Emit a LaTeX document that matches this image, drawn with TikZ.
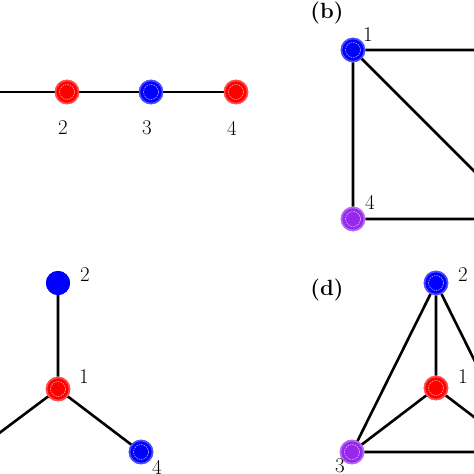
\documentclass[tikz,border=0pt]{standalone}
\definecolor{nred}{rgb}{1,0,0}
\definecolor{nblue}{rgb}{0,0,1}
\definecolor{npurple}{RGB}{150,40,235}
\tikzset{
  vtx/.style={circle,minimum size=23pt,inner sep=0pt,fill=#1,draw=#1!70!white,line width=1.6pt,
    path picture={\draw[white!70!#1,dashed,dash pattern=on 1.5pt off 1pt,line width=0.6pt] (path picture bounding box.center) circle (7.5pt);}},
  vplain/.style={circle,minimum size=23pt,inner sep=0pt,fill=#1,draw=#1,line width=1pt},
  edge/.style={line width=2.6pt,black},
  lab/.style={font=\fontsize{21}{24}\selectfont,inner sep=0pt},
  plab/.style={font=\fontsize{22}{26}\selectfont\bfseries,inner sep=0pt}
}
\begin{document}
\begin{tikzpicture}[x=1pt,y=-1pt]
\useasboundingbox (0,0) rectangle (474,474);
\clip (0,0) rectangle (474,474);
% panel (a)
\node[vtx=nred] (a1) at (-17,92) {};
\node[vtx=nred] (a2) at (67,92) {};
\node[vtx=nblue] (a3) at (151,92) {};
\node[vtx=nred] (a4) at (236,92) {};
\begin{scope}[on background layer/.try]
\end{scope}
\draw[edge] (a1) -- (a2) (a2) -- (a3) (a3) -- (a4);
\node[lab] (la2) at (63,128) {2};
\node[lab] (la3) at (147,128) {3};
\node[lab] (la4) at (232,128) {4};
% panel (b)
\node[plab] (pb) at (327,13) {(b)};
\node[vtx=nblue] (b1) at (353,50) {};
\node[vtx=nblue] (b2) at (522,50) {};
\node[vtx=nred] (b3) at (522,219) {};
\node[vtx=npurple] (b4) at (353,219) {};
\draw[edge] (b1) -- (b2) (b1) -- (b3) (b1) -- (b4) (b4) -- (b3) (b2) -- (b3);
\node[lab] (lb1) at (368,35) {1};
\node[lab] (lb4) at (370,202) {4};
% panel (c)
\node[vplain=nblue] (c2) at (58,283) {};
\node[vtx=nred] (c1) at (58,389) {};
\node[vtx=nblue] (c3) at (-26,452) {};
\node[vtx=nblue] (c4) at (141,452) {};
\draw[edge] (c1) -- (c2) (c1) -- (c3) (c1) -- (c4);
\node[lab] (lc2) at (85,275) {2};
\node[lab] (lc1) at (84,377) {1};
\node[lab] (lc4) at (157,467) {4};
% panel (d)
\node[plab] (pd) at (327,290) {(d)};
\node[vtx=nblue] (d2) at (436,283) {};
\node[vtx=nred] (d1) at (436,388) {};
\node[vtx=npurple] (d3) at (352,452) {};
\node[vtx=nblue] (d4) at (520,452) {};
\draw[edge] (d2) -- (d1) (d2) -- (d3) (d2) -- (d4) (d1) -- (d3) (d1) -- (d4) (d3) -- (d4);
\node[lab] (ld2) at (463,275) {2};
\node[lab] (ld1) at (463,377) {1};
\node[lab] (ld3) at (340,466) {3};
% redraw nodes above edges
\node[vtx=nred] at (a2) {};
\node[vtx=nblue] at (a3) {};
\node[vtx=nred] at (a4) {};
\node[vtx=nblue] at (b1) {};
\node[vtx=npurple] at (b4) {};
\node[vplain=nblue] at (c2) {};
\node[vtx=nred] at (c1) {};
\node[vtx=nblue] at (c4) {};
\node[vtx=nblue] at (d2) {};
\node[vtx=nred] at (d1) {};
\node[vtx=npurple] at (d3) {};
\end{tikzpicture}
\end{document}
